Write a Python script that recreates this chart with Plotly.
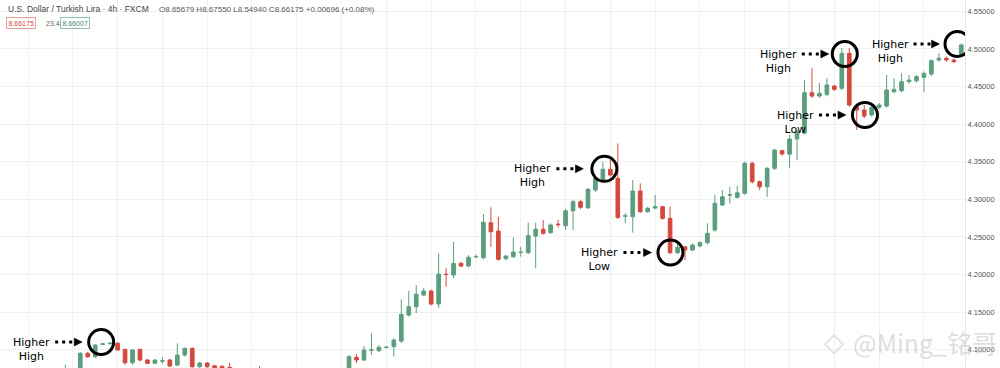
import plotly.graph_objects as go

# ---- data (4h candles, x = candle index) ----
t = [5, 7, 8, 9, 10, 11, 12, 13, 14, 15, 16, 17, 18, 19, 20, 21, 22, 23, 24, 25, 26, 27, 31,
     43, 44, 45, 46, 47, 48, 49, 50, 51, 52, 53, 54, 55, 56, 57, 58, 59, 60, 61, 62, 63, 64,
     65, 66, 67, 68, 69, 70, 71, 72, 73, 74, 75, 76, 77, 78, 79, 80, 81, 82, 83, 84, 85, 86,
     87, 88, 89, 90, 91, 92, 93, 94, 95, 96, 97, 98, 99, 100, 101, 102, 103, 104, 105, 106,
     107, 108, 109, 110, 111, 112, 113, 114, 115, 116, 117, 118, 119, 120, 121, 122, 123, 124, 125]
open_ = [4.0700, 4.0680, 4.0952, 4.0907, 4.1070, 4.1080, 4.1085, 4.1005, 4.0827, 4.1005, 4.0863, 4.0819, 4.0848, 4.0863, 4.0796, 4.0929, 4.1018, 4.0774, 4.0823, 4.0787, 4.0780, 4.0765, 4.0700,
         4.0700, 4.0899, 4.0863, 4.0993, 4.0987, 4.1030, 4.1040, 4.1115, 4.1461, 4.1572, 4.1727, 4.1780, 4.1607, 4.2004, 4.1993, 4.2149, 4.2113, 4.2234, 4.2223, 4.2689, 4.2578, 4.2210,
         4.2237, 4.2293, 4.2290, 4.2512, 4.2601, 4.2556, 4.2670, 4.2649, 4.2848, 4.2968, 4.2888, 4.3123, 4.3266, 4.3399, 4.3279, 4.2775, 4.2768, 4.3110, 4.2835, 4.2884, 4.2901, 4.2747,
         4.2290, 4.2369, 4.2325, 4.2379, 4.2423, 4.2591, 4.2924, 4.3054, 4.3026, 4.3080, 4.3478, 4.3234, 4.3167, 4.3412, 4.3646, 4.3600, 4.3802, 4.3881, 4.4417, 4.4373,
         4.4396, 4.4506, 4.4476, 4.4941, 4.4231, 4.4187, 4.4121, 4.4223, 4.4240, 4.4431, 4.4444, 4.4564, 4.4577, 4.4622, 4.4666, 4.4852, 4.4875, 4.4852, 4.4932]
high = [4.0800, 4.0970, 4.0973, 4.1076, 4.1085, 4.1095, 4.1100, 4.1010, 4.1010, 4.1015, 4.0875, 4.0875, 4.0903, 4.0880, 4.1085, 4.1030, 4.1030, 4.0840, 4.0835, 4.0795, 4.0790, 4.0823, 4.0780,
        4.0930, 4.0943, 4.1050, 4.1218, 4.1062, 4.1050, 4.1150, 4.1670, 4.1784, 4.1860, 4.1820, 4.1800, 4.2282, 4.2086, 4.2436, 4.2165, 4.2259, 4.2265, 4.2804, 4.2893, 4.2768, 4.2260,
        4.2494, 4.2369, 4.2689, 4.2689, 4.2724, 4.2680, 4.2724, 4.2870, 4.2990, 4.2990, 4.3150, 4.3300, 4.3500, 4.3522, 4.3744, 4.2818, 4.3256, 4.3212, 4.2900, 4.3057, 4.2915, 4.2901,
        4.2419, 4.2380, 4.2410, 4.2440, 4.2681, 4.3057, 4.3123, 4.3167, 4.3177, 4.3500, 4.3500, 4.3250, 4.3430, 4.3670, 4.3660, 4.3855, 4.3920, 4.4586, 4.4742, 4.4546,
        4.4609, 4.4520, 4.5012, 4.5012, 4.4260, 4.4254, 4.4240, 4.4280, 4.4653, 4.4609, 4.4675, 4.4653, 4.4650, 4.4700, 4.4860, 4.4945, 4.4900, 4.4870, 4.5070]
low = [4.0660, 4.0660, 4.0890, 4.0890, 4.1062, 4.1072, 4.0985, 4.0800, 4.0800, 4.0845, 4.0810, 4.0810, 4.0810, 4.0770, 4.0780, 4.0910, 4.0760, 4.0760, 4.0760, 4.0730, 4.0720, 4.0730, 4.0640,
       4.0680, 4.0823, 4.0850, 4.0929, 4.0970, 4.1015, 4.0907, 4.1090, 4.1440, 4.1488, 4.1710, 4.1590, 4.1554, 4.1837, 4.1953, 4.2095, 4.2095, 4.2215, 4.2205, 4.2369, 4.2185, 4.2190,
       4.2220, 4.2237, 4.2270, 4.2082, 4.2530, 4.2540, 4.2627, 4.2591, 4.2591, 4.2870, 4.2870, 4.3100, 4.3250, 4.3300, 4.2738, 4.2685, 4.2556, 4.2820, 4.2820, 4.2870, 4.2730, 4.2270,
       4.2270, 4.2193, 4.2310, 4.2360, 4.2400, 4.2570, 4.2910, 4.2947, 4.3010, 4.3060, 4.3210, 4.3123, 4.3034, 4.3390, 4.3580, 4.3416, 4.3522, 4.3860, 4.4350, 4.4350,
       4.4370, 4.4440, 4.4450, 4.4230, 4.3921, 4.4080, 4.4100, 4.4200, 4.4220, 4.4410, 4.4420, 4.4540, 4.4550, 4.4431, 4.4640, 4.4830, 4.4830, 4.4810, 4.4910]
close = [4.0740, 4.0952, 4.0907, 4.1062, 4.1078, 4.1087, 4.0996, 4.0827, 4.0996, 4.0863, 4.0819, 4.0863, 4.0852, 4.0783, 4.0929, 4.1018, 4.0774, 4.0823, 4.0774, 4.0750, 4.0740, 4.0760, 4.0680,
         4.0907, 4.0863, 4.0996, 4.0999, 4.1032, 4.1034, 4.1129, 4.1470, 4.1572, 4.1736, 4.1780, 4.1607, 4.2006, 4.2000, 4.2146, 4.2113, 4.2229, 4.2240, 4.2694, 4.2569, 4.2202, 4.2246,
         4.2299, 4.2297, 4.2516, 4.2601, 4.2548, 4.2658, 4.2663, 4.2848, 4.2968, 4.2893, 4.3133, 4.3279, 4.3399, 4.3323, 4.2760, 4.2781, 4.3110, 4.2835, 4.2880, 4.2904, 4.2747, 4.2290,
         4.2361, 4.2325, 4.2392, 4.2423, 4.2548, 4.2947, 4.3034, 4.3060, 4.3087, 4.3478, 4.3234, 4.3167, 4.3412, 4.3655, 4.3602, 4.3802, 4.3899, 4.4417, 4.4373, 4.4409,
         4.4520, 4.4462, 4.4941, 4.4254, 4.4187, 4.4107, 4.4223, 4.4254, 4.4453, 4.4462, 4.4564, 4.4586, 4.4630, 4.4675, 4.4843, 4.4875, 4.4852, 4.4830, 4.5052]

# annotation markers: (candle index, price, label)
mark_t = [9.8, 77.2, 86.05, 109.4, 112.1, 124.5]
mark_p = [4.1102, 4.3405, 4.2292, 4.4932, 4.4121, 4.5065]
mark_text = ["Higher<br>High", "Higher<br>High", "Higher<br>Low", "Higher<br>High", "Higher<br>Low", "Higher<br>High"]
text_off = [-49, -51, -50, -46, -49, -47]
tip_off = [-19, -21, -19, -16, -19, -18]

header = "U.S. Dollar / Turkish Lira · 4h · FXCM"
ohlc_text = "O8.65679 H8.67550 L8.54940 C8.66175 +0.00696 (+0.08%)"
bid, spread, ask = "8.66175", "23.4", "8.66007"

GREEN = "#5b9e7e"
RED = "#d4493d"

fig = go.Figure()
fig.add_trace(go.Candlestick(
    x=t, open=open_, high=high, low=low, close=close,
    increasing=dict(line=dict(color=GREEN, width=1), fillcolor=GREEN),
    decreasing=dict(line=dict(color=RED, width=1), fillcolor=RED),
    whiskerwidth=0, showlegend=False, hoverinfo="skip"))

shapes = []
annotations = []
for mt, mp, txt, to, tp in zip(mark_t, mark_p, mark_text, text_off, tip_off):
    shapes.append(dict(type="circle", xref="x", yref="y", xsizemode="pixel", ysizemode="pixel",
                       xanchor=mt, yanchor=mp, x0=-12.5, x1=12.5, y0=-12.5, y1=12.5,
                       line=dict(color="black", width=3)))
    shapes.append(dict(type="line", xref="x", yref="y", xsizemode="pixel", ysizemode="pixel",
                       xanchor=mt, yanchor=mp, x0=to + 3, x1=tp - 8, y0=0, y1=0,
                       line=dict(color="black", width=3, dash="3px,4px")))
    shapes.append(dict(type="path", xref="x", yref="y", xsizemode="pixel", ysizemode="pixel",
                       xanchor=mt, yanchor=mp,
                       path=f"M{tp-8},-4 L{tp},0 L{tp-8},4 Z",
                       fillcolor="black", line=dict(color="black", width=0.5)))
    annotations.append(dict(x=mt, y=mp, xref="x", yref="y", text=txt, showarrow=False,
                            xanchor="right", yanchor="middle", xshift=to, yshift=-7,
                            align="center", font=dict(family="DejaVu Sans", size=11, color="black")))

# header texts
annotations.append(dict(x=6 / 965, y=1 - 9 / 368, xref="paper", yref="paper", text=header,
                        showarrow=False, xanchor="left", yanchor="middle",
                        font=dict(family="Liberation Sans", size=8.5, color="#444")))
annotations.append(dict(x=157 / 965, y=1 - 9 / 368, xref="paper", yref="paper", text=ohlc_text,
                        showarrow=False, xanchor="left", yanchor="middle",
                        font=dict(family="Liberation Sans Narrow, Liberation Sans", size=8, color="#555")))
annotations.append(dict(x=6 / 965, y=1 - 23 / 368, xref="paper", yref="paper", text=bid,
                        showarrow=False, xanchor="left", yanchor="middle", bordercolor="#e8a09a",
                        borderwidth=1, borderpad=1.5,
                        font=dict(family="Liberation Sans", size=7, color="#d4493d")))
annotations.append(dict(x=44 / 965, y=1 - 23 / 368, xref="paper", yref="paper", text=spread,
                        showarrow=False, xanchor="left", yanchor="middle",
                        font=dict(family="Liberation Sans", size=7, color="#666")))
annotations.append(dict(x=60 / 965, y=1 - 23 / 368, xref="paper", yref="paper", text=ask,
                        showarrow=False, xanchor="left", yanchor="middle", bordercolor="#8fbfa8",
                        borderwidth=1, borderpad=1.5,
                        font=dict(family="Liberation Sans", size=7, color="#4a8a6c")))
# watermark
annotations.append(dict(x=851 / 965, y=1 - 342 / 368, xref="paper", yref="paper", text="@Ming_铭哥",
                        showarrow=False, xanchor="left", yanchor="middle",
                        font=dict(family="Noto Sans CJK SC", size=25, color="rgba(190,190,190,0.5)")))
annotations.append(dict(x=834 / 965, y=1 - 342 / 368, xref="paper", yref="paper", text="◇",
                        showarrow=False, xanchor="center", yanchor="middle",
                        font=dict(family="DejaVu Sans", size=26, color="rgba(190,190,190,0.5)")))

fig.update_layout(
    width=1000, height=368,
    margin=dict(l=0, r=35, t=0, b=0),
    paper_bgcolor="white", plot_bgcolor="white",
    shapes=shapes, annotations=annotations,
    xaxis=dict(range=[-3.75, 125.5], showticklabels=False, ticks="", tick0=0, dtick=6,
               showgrid=True, gridcolor="#f0f1f3", gridwidth=1, zeroline=False,
               rangeslider=dict(visible=False), fixedrange=True),
    yaxis=dict(range=[4.0757, 4.5650], side="right", tick0=4.0, dtick=0.05, tickformat=".5f",
               showgrid=True, gridcolor="#eef0f2", gridwidth=1, zeroline=False,
               showline=True, linecolor="#e6e6e6", linewidth=1, ticks="",
               tickfont=dict(family="Liberation Sans", size=7.5, color="#555"), fixedrange=True),
)

fig.write_html("out.html", config={"displayModeBar": False},
               post_script="document.body.style.margin='0px';document.body.style.overflow='hidden';")
